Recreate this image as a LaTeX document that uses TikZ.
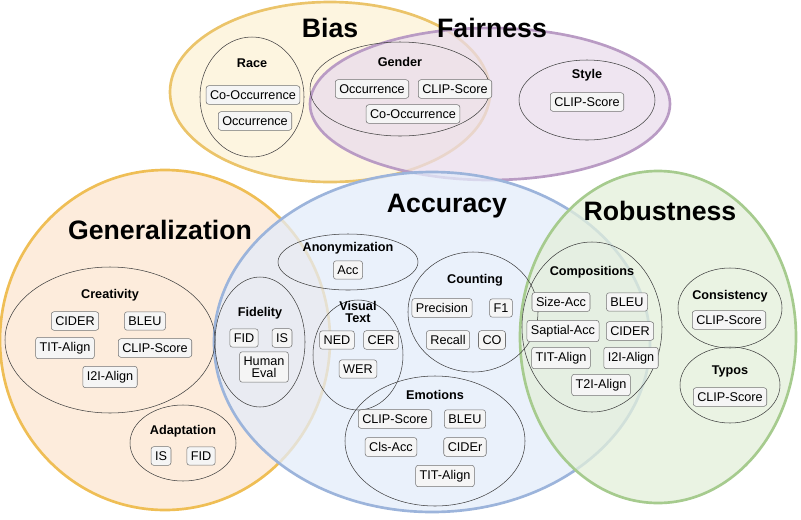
\documentclass[tikz,border=0pt]{standalone}
\usepackage{fontspec}
\setmainfont{Liberation Sans}
\usepackage{xcolor}
\usetikzlibrary{shapes.geometric,positioning}

\definecolor{biasfill}{HTML}{FDF1D6}
\definecolor{biasline}{HTML}{EBC46A}
\definecolor{fairfill}{HTML}{E9DCEC}
\definecolor{fairline}{HTML}{B99BC4}
\definecolor{genfill}{HTML}{FCE6D0}
\definecolor{genline}{HTML}{EFBE55}
\definecolor{accfill}{HTML}{E3ECFA}
\definecolor{accline}{HTML}{9CB4DB}
\definecolor{robfill}{HTML}{E3EFDA}
\definecolor{robline}{HTML}{A6CB8E}

\begin{document}
\begin{tikzpicture}[
    x=0.75pt, y=-0.75pt,
    area/.style n args={2}{ellipse, line width=2pt, fill opacity=0.75, minimum width=#1*1.5pt, minimum height=#2*1.5pt, inner sep=0pt},
    group/.style n args={2}{ellipse, draw=black!75, thin, minimum width=#1*1.5pt, minimum height=#2*1.5pt, inner sep=0pt},
    metric/.style={rectangle, rounded corners=2pt, draw=black!55, fill=white!96!black, font=\fontsize{9.5}{11}\selectfont, inner xsep=3pt, inner ysep=3.6pt, align=center},
    head/.style={font=\fontsize{9.5}{11}\selectfont\bfseries, align=center},
    title/.style={font=\fontsize{20}{22}\selectfont\bfseries},
]
\useasboundingbox (0,0) rectangle (801,519);

% Big areas
\node[area={160}{90}, draw=biasline, fill=biasfill] (bias) at (330,92) {};
\node[area={180}{76}, draw=fairline, fill=fairfill] (fair) at (490,104) {};
\node[area={165}{170}, draw=genline, fill=genfill] (gen) at (165,340) {};
\node[area={218}{170}, draw=accline, fill=accfill] (acc) at (432,342) {};
\node[area={138}{166}, draw=robline, fill=robfill] (rob) at (658,337) {};

\node[title] (biast) at (330,28) {Bias};
\node[title] (fairt) at (492,28) {Fairness};
\node[title] (gent) at (160,230) {Generalization};
\node[title] (acct) at (447,206) {Accuracy};
\node[title] (robt) at (660,211) {Robustness};

% Bias / Fairness
\node[group={52}{60}] (race) at (252,97) {};
\node[head] at (252,63) {Race};
\node[metric] (r1) at (253,95) {Co-Occurrence};
\node[metric] (r2) at (255,121) {Occurrence};

\node[group={90}{47}] (gender) at (400,89) {};
\node[head] at (400,62) {Gender};
\node[metric] (g1) at (372,89) {Occurrence};
\node[metric] (g2) at (455,89) {CLIP-Score};
\node[metric] (g3) at (413,114) {Co-Occurrence};

\node[group={68}{40}] (style) at (587,100) {};
\node[head] at (587,75) {Style};
\node[metric] (s1) at (587,102) {CLIP-Score};

% Generalization
\node[group={105}{73}] (crea) at (110,340) {};
\node[head] at (110,295) {Creativity};
\node[metric] (c1) at (75,321) {CIDER};
\node[metric] (c2) at (145,321) {BLEU};
\node[metric] (c3) at (65,348) {TIT-Align};
\node[metric] (c4) at (155,348) {CLIP-Score};
\node[metric] (c5) at (110,377) {I2I-Align};

\node[group={53}{38}] (adap) at (183,443) {};
\node[head] at (183,431) {Adaptation};
\node[metric] (a1) at (161,456) {IS};
\node[metric] (a2) at (201,456) {FID};

% Accuracy
\node[group={45}{65}] (fid) at (260,342) {};
\node[head] at (260,313) {Fidelity};
\node[metric] (f1) at (244,338) {FID};
\node[metric] (f2) at (282,338) {IS};
\node[metric] (f3) at (264,367) {Human\\[-2pt]Eval};

\node[group={70}{28}] (anon) at (348,262) {};
\node[head] at (348,248) {Anonymization};
\node[metric] (n1) at (348,270) {Acc};

\node[group={45}{55}] (vis) at (358,355) {};
\node[head] at (358,312) {Visual\\[-2pt]Text};
\node[metric] (v1) at (337,340) {NED};
\node[metric] (v2) at (381,340) {CER};
\node[metric] (v3) at (358,369) {WER};

\node[group={65}{60}] (count) at (473,312) {};
\node[head] at (475,280) {Counting};
\node[metric] (k1) at (442,308) {Precision};
\node[metric] (k2) at (501,308) {F1};
\node[metric] (k3) at (448,340) {Recall};
\node[metric] (k4) at (492,340) {CO};

\node[group={90}{65}] (emo) at (435,441) {};
\node[head] at (435,395) {Emotions};
\node[metric] (e1) at (395,419) {CLIP-Score};
\node[metric] (e2) at (465,419) {BLEU};
\node[metric] (e3) at (391,447) {Cls-Acc};
\node[metric] (e4) at (465,447) {CIDEr};
\node[metric] (e5) at (445,476) {TIT-Align};

% Robustness
\node[group={70}{85}] (comp) at (592,327) {};
\node[head] at (592,272) {Compositions};
\node[metric] (p1) at (561,302) {Size-Acc};
\node[metric] (p2) at (627,302) {BLEU};
\node[metric] (p3) at (563,331) {Saptial-Acc};
\node[metric] (p4) at (630,331) {CIDER};
\node[metric] (p5) at (561,358) {TIT-Align};
\node[metric] (p6) at (631,358) {I2I-Align};
\node[metric] (p7) at (601,385) {T2I-Align};

\node[group={52}{40}] (cons) at (730,308) {};
\node[head] at (730,296) {Consistency};
\node[metric] (o1) at (729,320) {CLIP-Score};

\node[group={50}{38}] (typo) at (730,385) {};
\node[head] at (730,371) {Typos};
\node[metric] (t1) at (730,397) {CLIP-Score};
\end{tikzpicture}
\end{document}
